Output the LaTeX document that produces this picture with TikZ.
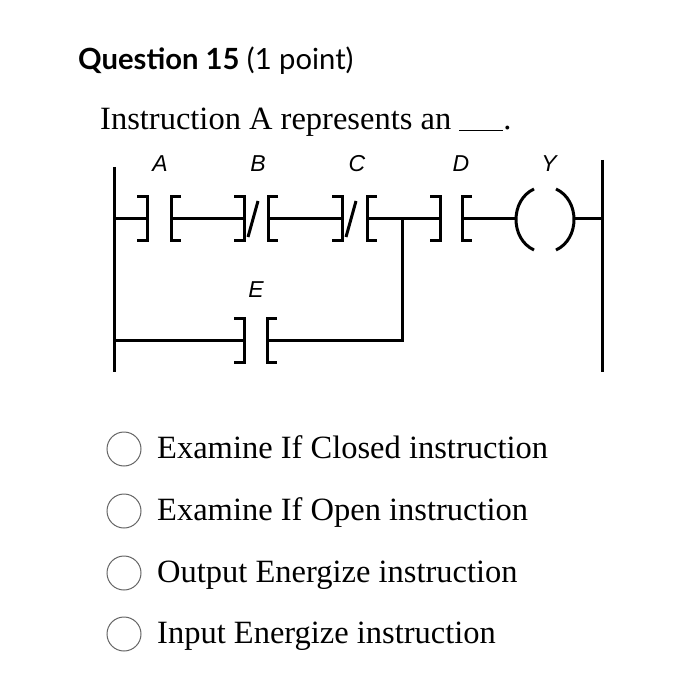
\documentclass[tikz,border=0pt]{standalone}
\usepackage{fontspec}
\setmainfont{Liberation Serif}
\newfontfamily\lato{Lato}
\newfontfamily\arialf{Liberation Sans}
\begin{document}
\begin{tikzpicture}[x=1pt,y=-1pt,
  wire/.style={line width=3pt},
  lbl/.style={font=\arialf\itshape\fontsize{23}{23}\selectfont},
  opt/.style={anchor=base west,inner sep=0pt,font=\fontsize{32.5}{35}\selectfont},
  radio/.style={circle,draw=black!60,line width=1pt,minimum size=34pt,inner sep=0pt}]
\useasboundingbox[fill=white] (0,0) rectangle (699,700);
\node[anchor=base west,inner sep=0pt,font=\lato\fontsize{29.2}{32}\selectfont] (q) at (78,70) {\textbf{Question 15} (1 point)};
\node[anchor=base west,inner sep=0pt,font=\fontsize{32.5}{35}\selectfont] (ins) at (100,130) {Instruction A represents an \rule[-1pt]{44pt}{1.3pt}.};
% rails
\coordinate (L1) at (114,167); \coordinate (L2) at (114,372);
\coordinate (R1) at (602,160); \coordinate (R2) at (602,372);
\draw[wire] (L1) -- (L2); \draw[wire] (R1) -- (R2);
% contacts
\newcommand\lcont[3]{% left bracket x, right bracket x, y
  \draw[wire] (#1-10,#3-22) -- (#1,#3-22) -- (#1,#3+22) -- (#1-10,#3+22);
  \draw[wire] (#2+10,#3-22) -- (#2,#3-22) -- (#2,#3+22) -- (#2+10,#3+22);}
\lcont{147}{171}{219}
\lcont{244}{268}{219}
\lcont{342}{367}{219}
\lcont{440}{462}{219}
\lcont{244}{267}{340}
\draw[wire] (248,237) -- (258,201);
\draw[wire] (346,237) -- (356,201);
\coordinate (j) at (402,219);
\draw[wire] (114,219) -- (147,219) (171,219) -- (244,219) (268,219) -- (342,219) (367,219) -- (440,219) (462,219) -- (515,219);
\draw[wire] (575,219) -- (602,219);
\draw[wire] (114,340) -- (244,340) (267,340) -- (402,340) -- (j);
% coil
\draw[wire] (534,189) .. controls (510,200) and (510,239) .. (534,250);
\draw[wire] (556,189) .. controls (580,200) and (580,239) .. (556,250);
\node[lbl] (la) at (160,164) {A};
\node[lbl] (lb) at (258,164) {B};
\node[lbl] (lc) at (357,164) {C};
\node[lbl] (ld) at (461,164) {D};
\node[lbl] (ly) at (549,164) {Y};
\node[lbl] (le) at (256,290) {E};
% options
\node[radio] (r1) at (124,449) {}; \node[opt] (o1) at (157,458) {Examine If Closed instruction};
\node[radio] (r2) at (124,511) {}; \node[opt] (o2) at (157,520) {Examine If Open instruction};
\node[radio] (r3) at (124,573) {}; \node[opt] (o3) at (157,582) {Output Energize instruction};
\node[radio] (r4) at (124,634) {}; \node[opt] (o4) at (157,643) {Input Energize instruction};
\end{tikzpicture}
\end{document}
